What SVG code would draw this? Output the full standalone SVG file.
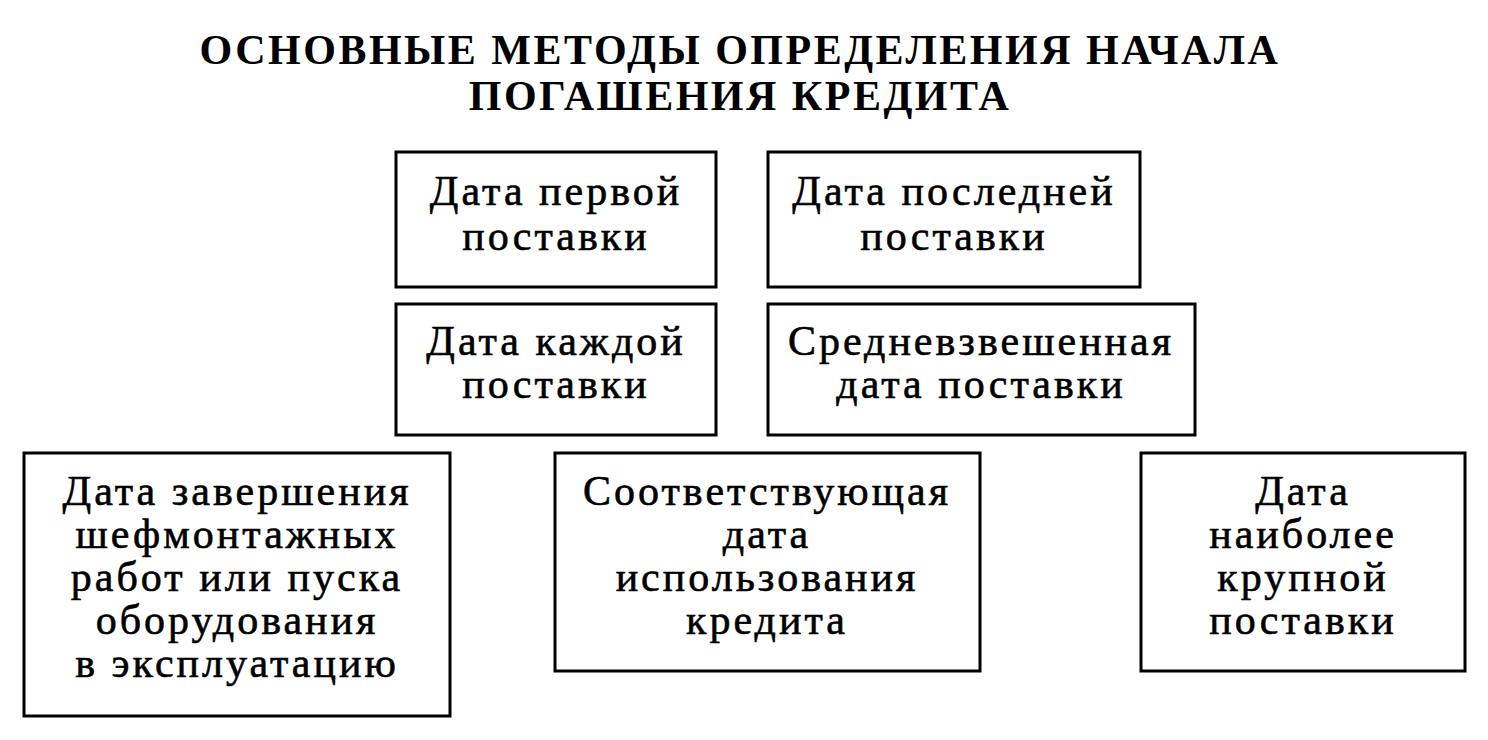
<svg xmlns="http://www.w3.org/2000/svg" width="1488" height="740" viewBox="0 0 1488 740">
<style>
rect{fill:#fff;stroke:#000;stroke-width:3}
text{font-family:"Liberation Serif","DejaVu Serif",serif;font-size:42px;letter-spacing:3px;text-anchor:middle;fill:#000;stroke:#000;stroke-width:0.6}
.t{font-weight:bold;font-size:42px;letter-spacing:2.5px;stroke-width:0}
</style>
<rect x="0" y="0" width="1488" height="740" style="stroke:none"/>
<text class="t" x="740" y="64">ОСНОВНЫЕ МЕТОДЫ ОПРЕДЕЛЕНИЯ НАЧАЛА</text>
<text class="t" x="740" y="110">ПОГАШЕНИЯ КРЕДИТА</text>
<g id="n1"><rect x="396" y="152" width="320" height="135"/><text x="556" y="205">Дата первой</text><text x="556" y="250">поставки</text></g>
<g id="n2"><rect x="768" y="152" width="372" height="135"/><text x="954" y="205">Дата последней</text><text x="954" y="250">поставки</text></g>
<g id="n3"><rect x="396" y="304" width="320" height="131"/><text x="556" y="355">Дата каждой</text><text x="556" y="398">поставки</text></g>
<g id="n4"><rect x="768" y="304" width="427" height="131"/><text x="981" y="355">Средневзвешенная</text><text x="981" y="398">дата поставки</text></g>
<g id="n5"><rect x="24" y="453" width="426" height="263"/><text x="237" y="505">Дата завершения</text><text x="237" y="548">шефмонтажных</text><text x="237" y="591">работ или пуска</text><text x="237" y="634">оборудования</text><text x="237" y="677">в эксплуатацию</text></g>
<g id="n6"><rect x="555" y="453" width="425" height="218"/><text x="767" y="505">Соответствующая</text><text x="767" y="548">дата</text><text x="767" y="591">использования</text><text x="767" y="634">кредита</text></g>
<g id="n7"><rect x="1141" y="453" width="324" height="218"/><text x="1303" y="505">Дата</text><text x="1303" y="548">наиболее</text><text x="1303" y="591">крупной</text><text x="1303" y="634">поставки</text></g>
<g id="connectors"/>
</svg>
